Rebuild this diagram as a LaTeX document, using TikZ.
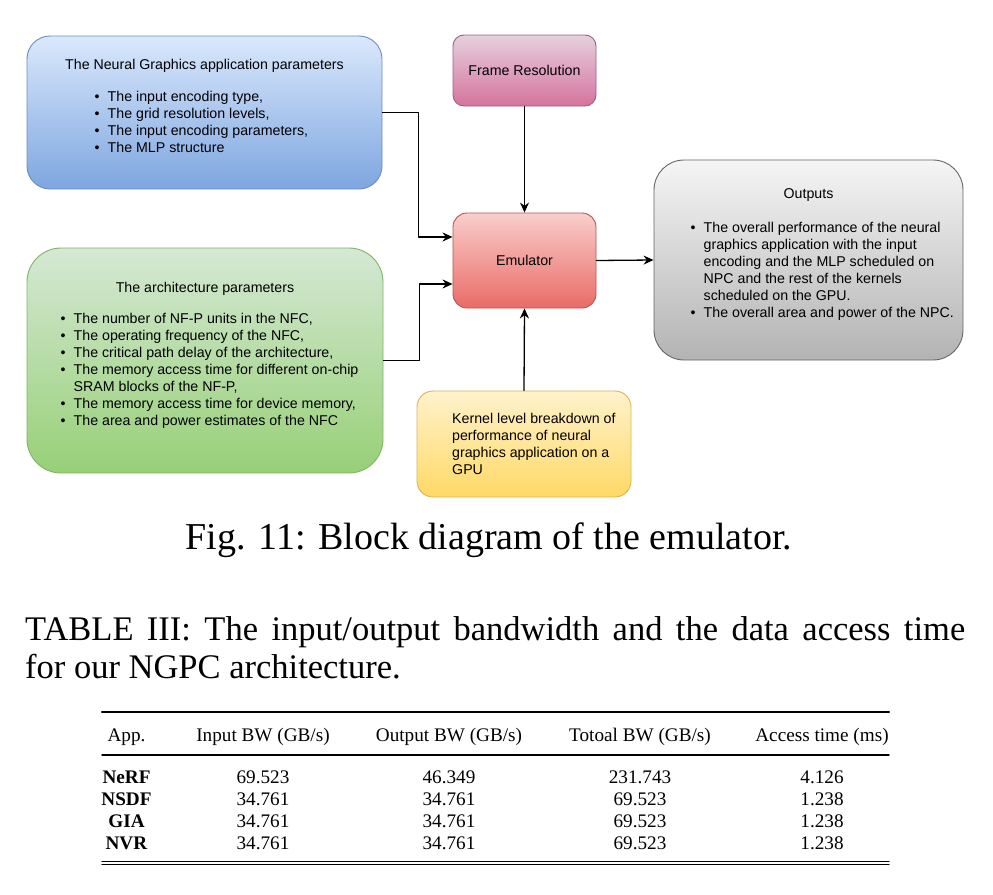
\documentclass[tikz,border=0pt]{standalone}
\usepackage{fontspec}
\setmainfont{Liberation Serif}
\newfontfamily\arialfont{Liberation Sans}
\usetikzlibrary{arrows.meta,positioning}

\definecolor{ngtop}{HTML}{DAE8FC}
\definecolor{ngbot}{HTML}{7EA6E0}
\definecolor{ngdraw}{HTML}{6C8EBF}
\definecolor{archtop}{HTML}{D5E8D4}
\definecolor{archbot}{HTML}{97D077}
\definecolor{archdraw}{HTML}{82B366}
\definecolor{frtop}{HTML}{E6D0DE}
\definecolor{frbot}{HTML}{D5739D}
\definecolor{frdraw}{HTML}{996185}
\definecolor{emtop}{HTML}{F8CECC}
\definecolor{embot}{HTML}{EA6B66}
\definecolor{emdraw}{HTML}{B85450}
\definecolor{gputop}{HTML}{FFF2CC}
\definecolor{gpubot}{HTML}{FFD966}
\definecolor{gpudraw}{HTML}{D6B656}
\definecolor{outtop}{HTML}{F5F5F5}
\definecolor{outbot}{HTML}{B3B3B3}
\definecolor{outdraw}{HTML}{666666}

\newcommand{\blt}{\makebox[13pt][l]{\textbullet}}
\newcommand{\bltgap}{\hspace*{13pt}}

\begin{document}
\begin{tikzpicture}[x=1pt,y=-1pt,line cap=round,line join=round,
  blk/.style={draw,line width=0.9pt,inner sep=0pt,
    font=\arialfont\fontsize{14.2}{17}\selectfont},
  txt/.style={inner sep=0pt,font=\arialfont\fontsize{14.2}{17}\selectfont},
  flow/.style={-{Stealth[length=10pt,width=9pt]},line width=1.3pt},
  cell/.style={anchor=base,inner sep=0pt,font=\fontsize{19.2}{22}\selectfont}]
\useasboundingbox (0,0) rectangle (993,894);

% blocks
\node [blk,draw=ngdraw,top color=ngtop,bottom color=ngbot,rounded corners=23pt,
  minimum width=355pt,minimum height=153pt] (ngapp) at (204.5,112.5) {};
\node [blk,draw=archdraw,top color=archtop,bottom color=archbot,rounded corners=34pt,
  minimum width=356pt,minimum height=225pt] (arch) at (205,360.5) {};
\node [blk,draw=frdraw,top color=frtop,bottom color=frbot,rounded corners=11pt,
  minimum width=143pt,minimum height=71pt] (frame) at (524.5,70.5) {Frame Resolution};
\node [blk,draw=emdraw,top color=emtop,bottom color=embot,rounded corners=14pt,
  minimum width=143pt,minimum height=95pt] (emu) at (524.5,260.5) {Emulator};
\node [blk,draw=gpudraw,top color=gputop,bottom color=gpubot,rounded corners=16pt,
  minimum width=214pt,minimum height=106pt] (gpu) at (524,444) {};
\node [blk,draw=outdraw,top color=outtop,bottom color=outbot,rounded corners=30pt,
  minimum width=309pt,minimum height=200pt] (out) at (808.5,260) {};

% texts inside the blocks
\node [txt] (ngtitle) at (204.5,65.5) {The Neural Graphics application parameters};
\node [txt,anchor=north west,align=left] (nglist) at (94.5,91.5) {\blt The input encoding type,\\
  \blt The grid resolution levels,\\ \blt The input encoding parameters,\\ \blt The MLP structure};
\node [txt] (archtitle) at (205,288.5) {The architecture parameters};
\node [txt,anchor=north west,align=left] (archlist) at (60.5,313.5) {\blt The number of NF-P units in the NFC,\\
  \blt The operating frequency of the NFC,\\ \blt The critical path delay of the architecture,\\
  \blt The memory access time for different on-chip\\ \bltgap SRAM blocks of the NF-P,\\
  \blt The memory access time for device memory,\\ \blt The area and power estimates of the NFC};
\node [txt] (outtitle) at (808.5,195.5) {Outputs};
\node [txt,anchor=north west,align=left] (outlist) at (690.5,222.5) {\blt The overall performance of the neural\\
  \bltgap graphics application with the input\\ \bltgap encoding and the MLP scheduled on\\
  \bltgap NPC and the rest of the kernels\\ \bltgap scheduled on the GPU.\\
  \blt The overall area and power of the NPC.};
\node [txt,anchor=north west,align=left] (gputext) at (452,413.5) {Kernel level breakdown of\\
  performance of neural\\ graphics application on a\\ GPU};

% connectors
\draw [flow] (ngapp.east) -- ++(36,0) |- ([yshift=23.5pt]emu.west);
\draw [flow] (arch.east) -- ++(36,0) |- ([yshift=-23.5pt]emu.west);
\draw [flow] (frame.south) -- (emu.north);
\draw [flow] (gpu.north) -- (emu.south);
\draw [flow] (emu.east) -- (out.west);

% captions
\node [font=\fontsize{38}{44}\selectfont,inner sep=0pt] (figcap) at (489,540) {Fig. 11: Block diagram of the emulator.};
\node [font=\fontsize{34.5}{38}\selectfont,inner sep=0pt,anchor=north west,align=left] (tabcap) at (25,616)
  {\makebox[940pt][s]{TABLE III: The input/output bandwidth and the data access time}\\ for our NGPC architecture.};

% table
\draw [line width=2.4pt] (102,712) -- (889,712);
\draw [line width=1.4pt] (102,755) -- (889,755);
\draw [line width=1.3pt] (102,861.5) -- (889,861.5);
\draw [line width=1.3pt] (102,864.5) -- (889,864.5);
\path (126.5,741.5) node[cell] (h1) {App.} (263,741.5) node[cell] (h2) {Input BW (GB/s)}
  (449,741.5) node[cell] (h3) {Output BW (GB/s)} (640,741.5) node[cell] (h4) {Totoal BW (GB/s)}
  (822,741.5) node[cell] (h5) {Access time (ms)};
\path (126.5,783.5) node[cell] (a1) {\textbf{NeRF}} (263,783.5) node[cell] (a2) {69.523}
  (449,783.5) node[cell] (a3) {46.349} (640,783.5) node[cell] (a4) {231.743} (822,783.5) node[cell] (a5) {4.126};
\path (126.5,805.5) node[cell] (b1) {\textbf{NSDF}} (263,805.5) node[cell] (b2) {34.761}
  (449,805.5) node[cell] (b3) {34.761} (640,805.5) node[cell] (b4) {69.523} (822,805.5) node[cell] (b5) {1.238};
\path (126.5,827.5) node[cell] (c1) {\textbf{GIA}} (263,827.5) node[cell] (c2) {34.761}
  (449,827.5) node[cell] (c3) {34.761} (640,827.5) node[cell] (c4) {69.523} (822,827.5) node[cell] (c5) {1.238};
\path (126.5,849.5) node[cell] (d1) {\textbf{NVR}} (263,849.5) node[cell] (d2) {34.761}
  (449,849.5) node[cell] (d3) {34.761} (640,849.5) node[cell] (d4) {69.523} (822,849.5) node[cell] (d5) {1.238};
\end{tikzpicture}
\end{document}
